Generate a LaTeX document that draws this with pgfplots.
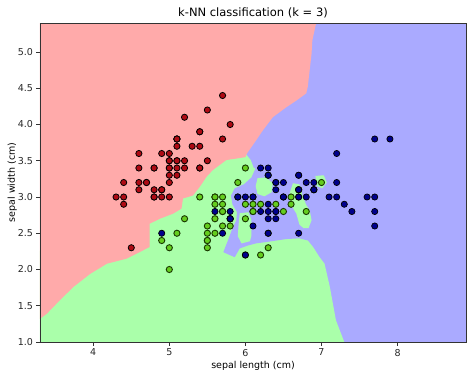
\documentclass[border=0pt]{standalone}
\usepackage{fontspec}
\setmainfont{DejaVu Sans}
\usepackage{pgfplots}
\pgfplotsset{compat=1.18}
\usepackage{pgfplotstable}
\definecolor{bgR}{HTML}{FFAAAA}
\definecolor{bgG}{HTML}{AAFFAA}
\definecolor{bgB}{HTML}{AAAAFF}
\definecolor{ptR}{RGB}{175,10,20}
\definecolor{ptG}{RGB}{100,205,30}
\definecolor{ptGe}{RGB}{25,55,0}
\definecolor{ptB}{RGB}{0,0,140}

\pgfplotstableread{
x y
5.1 3.5
4.9 3.0
4.7 3.2
4.6 3.1
5.0 3.6
5.4 3.9
4.6 3.4
5.0 3.4
4.4 2.9
4.9 3.1
5.4 3.7
4.8 3.4
4.8 3.0
4.3 3.0
5.8 4.0
5.7 4.4
5.4 3.9
5.1 3.5
5.7 3.8
5.1 3.8
5.4 3.4
5.1 3.7
4.6 3.6
5.1 3.3
4.8 3.4
5.0 3.0
5.0 3.4
5.2 3.5
5.2 3.4
4.7 3.2
4.8 3.1
5.4 3.4
5.2 4.1
5.5 4.2
4.9 3.1
5.0 3.2
5.5 3.5
4.9 3.6
4.4 3.0
5.1 3.4
5.0 3.5
4.5 2.3
4.4 3.2
5.0 3.5
5.1 3.8
4.8 3.0
5.1 3.8
4.6 3.2
5.3 3.7
5.0 3.3
}\setosa

\pgfplotstableread{
x y
7.0 3.2
6.4 3.2
6.9 3.1
5.5 2.3
6.5 2.8
5.7 2.8
6.3 3.3
4.9 2.4
6.6 2.9
5.2 2.7
5.0 2.0
5.9 3.0
6.0 2.2
6.1 2.9
5.6 2.9
6.7 3.1
5.6 3.0
5.8 2.7
6.2 2.2
5.6 2.5
5.9 3.2
6.1 2.8
6.3 2.5
6.1 2.8
6.4 2.9
6.6 3.0
6.8 2.8
6.7 3.0
6.0 2.9
5.7 2.6
5.5 2.4
5.5 2.4
5.8 2.7
6.0 2.7
5.4 3.0
6.0 3.4
6.7 3.1
6.3 2.3
5.6 3.0
5.5 2.5
5.5 2.6
6.1 3.0
5.8 2.6
5.0 2.3
5.6 2.7
5.7 3.0
5.7 2.9
6.2 2.9
5.1 2.5
5.7 2.8
}\versicolor

\pgfplotstableread{
x y
6.3 3.3
5.8 2.7
7.1 3.0
6.3 2.9
6.5 3.0
7.6 3.0
4.9 2.5
7.3 2.9
6.7 2.5
7.2 3.6
6.5 3.2
6.4 2.7
6.8 3.0
5.7 2.5
5.8 2.8
6.4 3.2
6.5 3.0
7.7 3.8
7.7 2.6
6.0 2.2
6.9 3.2
5.6 2.8
7.7 2.8
6.3 2.7
6.7 3.3
7.2 3.2
6.2 2.8
6.1 3.0
6.4 2.8
7.2 3.0
7.4 2.8
7.9 3.8
6.4 2.8
6.3 2.8
6.1 2.6
7.7 3.0
6.3 3.4
6.4 3.1
6.0 3.0
6.9 3.1
6.7 3.1
6.9 3.1
5.8 2.7
6.8 3.2
6.7 3.3
6.7 3.0
6.3 2.5
6.5 3.0
6.2 3.4
5.9 3.0
}\virginica

\begin{document}
\begin{tikzpicture}
\useasboundingbox (-40pt,-39pt) rectangle (434pt,342pt);
\begin{axis}[
  at={(0,0)}, anchor=south west,
  width=426pt, height=319pt, scale only axis,
  xmin=3.3, xmax=8.9, ymin=1.0, ymax=5.4,
  axis on top,
  xtick={4,5,6,7,8},
  ytick={1.0,1.5,2.0,2.5,3.0,3.5,4.0,4.5,5.0},
  yticklabel style={/pgf/number format/.cd, fixed, fixed zerofill, precision=1},
  /pgf/number format/assume math mode=true,
  ticklabel style={font=\fontsize{9.5}{11}\selectfont, text=black!85},
  tick align=outside,
  xtick pos=bottom, ytick pos=left,
  major tick length=3.5pt,
  every tick/.style={black!80, line width=0.8pt},
  axis line style={black!80, line width=0.8pt},
  every axis title shift=0pt,
  title={k-NN classification (k = 3)},
  title style={at={(axis description cs:0.5,1.0205)}, anchor=base, inner sep=0pt, font=\fontsize{11.5}{13}\selectfont},
  xlabel={sepal length (cm)},
  ylabel={sepal width (cm)},
  x label style={at={(axis description cs:0.5,-0.0831)}, anchor=base, inner sep=0pt, font=\fontsize{9.5}{11}\selectfont},
  y label style={at={(axis description cs:-0.0587,0.5)}, anchor=base, inner sep=0pt, font=\fontsize{9.5}{11}\selectfont},
]
% background (blue class region)
\addplot[fill=bgB, draw=none, mark=none] coordinates {(3.3,1.0) (8.9,1.0) (8.9,5.4) (3.3,5.4)};
% green region (generous towards red side; red drawn over it)
\addplot[fill=bgG, draw=none, mark=none] coordinates {
(3.3,1.0) (3.3,2.26) (5.40,3.64) (5.98,3.64) (6.02,3.575) (6.07,3.51) (6.11,3.40)
(6.71,3.22) (6.76,3.0) (6.84,2.82) (6.87,2.65) (6.84,2.51) (6.82,2.40) (6.89,2.31)
(6.975,2.17) (7.04,2.08) (7.06,1.99) (7.11,1.76) (7.19,1.30) (7.30,1.0)};
% red region
\addplot[fill=bgR, draw=none, mark=none] coordinates {
(3.3,5.4) (6.93,5.4) (6.88,5.16) (6.87,4.98) (6.82,4.52) (6.80,4.43) (6.67,4.33)
(6.54,4.24) (6.36,4.10) (6.23,3.92) (6.14,3.78) (6.02,3.60) (6.00,3.55)
(5.88,3.53) (5.75,3.51) (5.66,3.44) (5.57,3.37) (5.49,3.28) (5.40,3.14) (5.31,3.02)
(5.18,2.98) (5.16,2.84) (5.05,2.77) (4.875,2.70) (4.74,2.63) (4.74,2.31) (4.61,2.24)
(4.44,2.15) (4.18,2.08) (3.96,1.94) (3.74,1.76) (3.56,1.575) (3.39,1.39) (3.3,1.32)};
% blue intrusion into green
\addplot[fill=bgB, draw=none, mark=none] coordinates {
(6.135,3.534) (6.135,3.40) (6.08,3.27) (5.98,3.175) (5.86,3.12) (5.81,3.02) (5.83,2.90)
(5.89,2.79) (5.88,2.68) (5.82,2.54) (5.77,2.40) (5.71,2.24) (5.77,2.21) (5.86,2.17)
(5.925,2.29) (6.03,2.33) (6.14,2.36) (6.28,2.38) (6.41,2.40) (6.54,2.42) (6.71,2.43)
(6.82,2.40) (6.90,2.54) (6.92,2.75) (6.87,2.95) (6.78,3.20) (6.58,3.40) (6.32,3.53)};
% green islands
\addplot[fill=bgG, draw=none, mark=none] coordinates {
(6.625,3.19) (6.71,3.175) (6.756,3.0) (6.80,2.89) (6.844,2.82) (6.87,2.68) (6.83,2.57)
(6.765,2.57) (6.71,2.62) (6.67,2.77) (6.59,2.91) (6.57,3.01) (6.60,3.11)};
\addplot[fill=bgG, draw=none, mark=none] coordinates {
(6.16,3.26) (6.27,3.27) (6.36,3.19) (6.345,3.065) (6.25,3.01) (6.16,3.04) (6.135,3.15)};
\addplot[fill=bgG, draw=none, mark=none] coordinates {
(6.92,3.29) (7.03,3.30) (7.07,3.20) (7.01,3.12) (6.94,3.15)};
\addplot[fill=bgG, draw=none, mark=none] coordinates {
(5.925,2.775) (6.04,2.79) (6.08,2.68) (6.08,2.47) (6.06,2.39) (5.95,2.36) (5.90,2.46) (5.91,2.61)};
% data points
\addplot[only marks, mark=*, mark size=3.1pt, mark options={fill=ptR, draw=black, line width=0.8pt}] table {\setosa};
\addplot[only marks, mark=*, mark size=3.1pt, mark options={fill=ptG, draw=ptGe, line width=0.9pt}] table {\versicolor};
\addplot[only marks, mark=*, mark size=3.1pt, mark options={fill=ptB, draw=black, line width=0.7pt}] table {\virginica};
\end{axis}
\end{tikzpicture}
\end{document}
